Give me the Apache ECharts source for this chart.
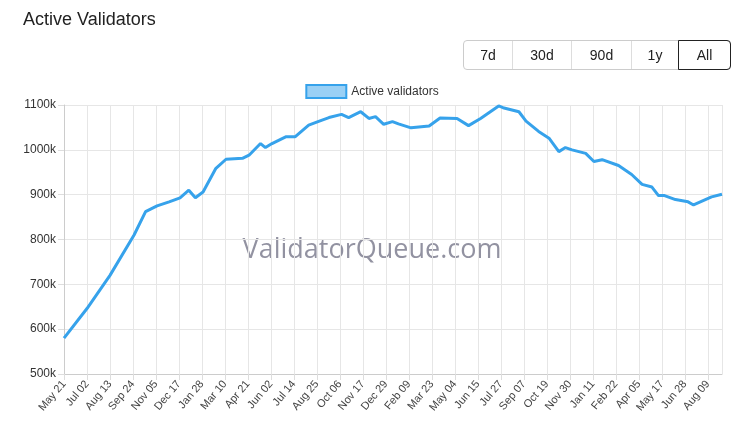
<!DOCTYPE html>
<html><head><meta charset="utf-8">
<script src="https://cdn.jsdelivr.net/npm/echarts@6/dist/echarts.min.js"></script>
<style>
body{margin:0;font-family:"Helvetica Neue",Arial,"Liberation Sans",sans-serif;background:#fff}
#c{width:744px;height:432px}
#btns{position:absolute;left:463px;top:40px;display:flex;border:1px solid #ccc;border-radius:4px;height:28px;font-size:14px;color:#222}
#btns div{display:flex;align-items:center;justify-content:center;border-right:1px solid #ddd}
#btns div.on{border:1px solid #222;border-radius:0 4px 4px 0;margin:-1px}
</style></head><body>
<div id="c"></div>
<div id="btns"><div style="width:48px">7d</div><div style="width:58px">30d</div><div style="width:59px">90d</div><div style="width:46px">1y</div><div class="on" style="width:51px;border-right:1px solid #222">All</div></div>
<script>
const startDate = '2023-05-21';
const days = [0,42,84,128,149,170,192,212,228,240,254,277,296,326,338,359,368,380,405,422,447,464,484,507,520,542,557,569,584,600,611,634,667,687,718,739,761,794,802,831,844,867,886,904,916,928,953,968,983,1013,1037,1056,1074,1086,1097,1117,1140,1150,1183,1202];
const validators = [580,646,720,810,862,875,884,893,910,893,906,958,979,981,988,1014,1005,1014,1029,1029,1055,1063,1072,1079,1072,1085,1070,1074,1057,1063,1058,1049,1053,1071,1070,1054,1070,1098,1094,1085,1064,1041,1026,996,1005,1000,992,974,978,965,945,923,917,898,898,889,884,877,895,901];
const yTicks = ['500k','600k','700k','800k','900k','1000k','1100k'];
const M=['Jan','Feb','Mar','Apr','May','Jun','Jul','Aug','Sep','Oct','Nov','Dec'];
const t0=Date.parse(startDate+'T00:00:00Z');
function fmt(d){const dt=new Date(t0+d*86400000);return M[dt.getUTCMonth()]+' '+String(dt.getUTCDate()).padStart(2,'0');}
const ch=echarts.init(document.getElementById('c'));
ch.setOption({
 animation:false,
 title:{text:'Active Validators',left:18,top:6,textStyle:{fontSize:18,fontWeight:500,color:'#222'}},
 legend:{top:79,left:'center',itemWidth:40,itemHeight:13,textStyle:{fontSize:12,color:'#333'},data:[{name:'Active validators',icon:'rect',itemStyle:{color:'rgba(54,162,235,0.5)',borderColor:'#36a2eb',borderWidth:2}}]},
 graphic:[{type:'text',z:-10,zlevel:0,left:'center',top:237,style:{text:'ValidatorQueue.com',fontSize:27,fill:'rgba(110,110,130,0.75)',fontFamily:'Open Sans'}}],
 grid:{left:64,right:22,top:105,bottom:58,containLabel:false},
 xAxis:{type:'value',min:0,max:1202,interval:42,axisLine:{lineStyle:{color:'#ccc'}},axisTick:{length:6,lineStyle:{color:'#ddd'}},
  splitLine:{lineStyle:{color:'#e6e6e6'}},axisLabel:{rotate:50,fontSize:11,color:'#444',margin:8,showMaxLabel:false,formatter:v=>fmt(v)}},
 yAxis:{type:'value',min:500,max:1100,interval:100,axisLine:{show:true,lineStyle:{color:'#ccc'}},axisTick:{show:true,length:6,lineStyle:{color:'#ddd'}},
  splitLine:{lineStyle:{color:'#e6e6e6'}},axisLabel:{fontSize:12,color:'#333',formatter:v=>yTicks[(v-500)/100]}},
 series:[{name:'Active validators',type:'line',z:5,showSymbol:false,data:days.map((d,i)=>[d,validators[i]]),lineStyle:{color:'#36a2eb',width:3},itemStyle:{color:'#36a2eb'}}]
});
</script></body></html>
